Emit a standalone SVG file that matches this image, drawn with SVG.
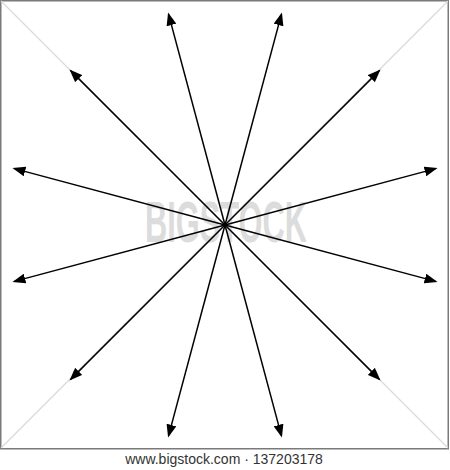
<svg xmlns="http://www.w3.org/2000/svg" width="450" height="470" viewBox="0 0 450 470">
  <defs>
    <style>
      .arrow { stroke: #000; stroke-width: 1.5; fill: none; marker-end: url(#head); }
      .diag { stroke: #dadada; stroke-width: 1.2; }
      .frame { fill: #fff; stroke: #7a7a7a; stroke-width: 1.5; }
      .wm { font-family: "Liberation Sans", Arial, sans-serif; font-weight: bold; font-size: 58px; fill: #dcdcdc; }
      .foot { font-family: "Liberation Sans", Arial, sans-serif; font-size: 14px; fill: #333; }
    </style>
    <marker id="head" viewBox="0 0 13 10" refX="11" refY="5" markerWidth="13" markerHeight="10" markerUnits="userSpaceOnUse" orient="auto">
      <path d="M0,0 L13,5 L0,10 Z" fill="#000"/>
    </marker>
  </defs>
  <rect x="0" y="0" width="450" height="470" fill="#fff"/>
  <g id="frame">
    <rect class="frame" x="0.75" y="0.75" width="447.5" height="448"/>
    <line class="diag" x1="1" y1="1" x2="448" y2="448"/>
    <line class="diag" x1="448" y1="1" x2="1" y2="448"/>
  </g>
  <g id="watermark">
    <text class="wm" x="226" y="242" text-anchor="middle" textLength="162" lengthAdjust="spacingAndGlyphs">BIGSTOCK</text>
  </g>
  <g id="connectors">
    <line class="arrow" x1="225" y1="225" x2="168.6" y2="14.4"/>
    <line class="arrow" x1="225" y1="225" x2="281.4" y2="14.4"/>
    <line class="arrow" x1="225" y1="225" x2="70.9" y2="70.9"/>
    <line class="arrow" x1="225" y1="225" x2="379.1" y2="70.9"/>
    <line class="arrow" x1="225" y1="225" x2="14.4" y2="168.6"/>
    <line class="arrow" x1="225" y1="225" x2="435.6" y2="168.6"/>
    <line class="arrow" x1="225" y1="225" x2="14.4" y2="281.4"/>
    <line class="arrow" x1="225" y1="225" x2="435.6" y2="281.4"/>
    <line class="arrow" x1="225" y1="225" x2="70.9" y2="379.1"/>
    <line class="arrow" x1="225" y1="225" x2="379.1" y2="379.1"/>
    <line class="arrow" x1="225" y1="225" x2="168.6" y2="435.6"/>
    <line class="arrow" x1="225" y1="225" x2="281.4" y2="435.6"/>
  </g>
  <g id="center">
    <circle cx="225" cy="225" r="2" fill="#000"/>
  </g>
  <g id="footer">
    <text class="foot" x="224" y="464" text-anchor="middle">www.bigstock.com · 137203178</text>
  </g>
</svg>
